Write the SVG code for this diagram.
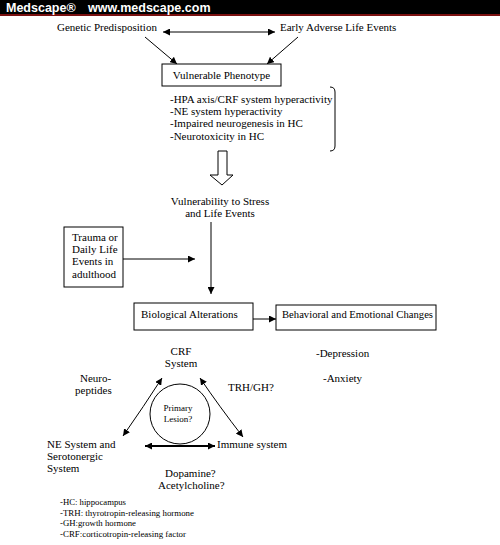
<svg xmlns="http://www.w3.org/2000/svg" width="500" height="545" viewBox="0 0 500 545">
<style>
.t{font-family:"Liberation Serif","Times New Roman",serif;font-size:11px;fill:#000}
.s{font-size:9px}
.f{font-family:"Liberation Serif","Times New Roman",serif;font-size:8.5px;fill:#000}
.box{fill:#fff;stroke:#000;stroke-width:1}
.ln{stroke:#000;stroke-width:1;fill:none}
.hd{font-family:"Liberation Sans",Arial,sans-serif;font-weight:bold;font-size:12.5px;fill:#fff}
</style>
<defs>
<marker id="ah" viewBox="0 0 10 10" refX="10" refY="5" markerWidth="7" markerHeight="7" markerUnits="userSpaceOnUse" orient="auto-start-reverse">
<path d="M0,0 L10,5 L0,10 Z" fill="#000"/>
</marker>
</defs>
<rect x="0" y="0" width="500" height="545" fill="#fff"/>
<g id="header">
<rect x="0" y="0" width="500" height="14" fill="#000"/>
<rect x="0" y="14" width="500" height="2" fill="#7a1010"/>
<text class="hd" x="6" y="11.5">Medscape®</text>
<text class="hd" x="88" y="11.5">www.medscape.com</text>
</g>
<g id="connectors">
<line class="ln" x1="163" y1="32" x2="275" y2="32" marker-start="url(#ah)" marker-end="url(#ah)"/>
<line class="ln" x1="145" y1="37" x2="177" y2="64" marker-end="url(#ah)"/>
<line class="ln" x1="298" y1="37" x2="267" y2="64" marker-end="url(#ah)"/>
<path class="ln" d="M330,87 Q335,87 335,92 L335,146 Q335,151 330,151"/>
<path d="M218,151 L227,151 L227,175 L233,175 L222,185 L210,175 L218,175 Z" fill="#fff" stroke="#000" stroke-width="1"/>
<line class="ln" x1="123" y1="259" x2="195" y2="259" marker-end="url(#ah)"/>
<line class="ln" x1="211" y1="222" x2="211" y2="294" marker-end="url(#ah)"/>
<line class="ln" x1="253" y1="319" x2="276" y2="319" marker-end="url(#ah)"/>
<path class="ln" d="M162,378 Q144,406 123,436" marker-start="url(#ah)" marker-end="url(#ah)"/>
<path class="ln" d="M200,378 Q219,406 243,437" marker-start="url(#ah)" marker-end="url(#ah)"/>
<line x1="145" y1="446" x2="215" y2="446" stroke="#000" stroke-width="2" marker-start="url(#ah)" marker-end="url(#ah)"/>
</g>
<g id="genetic"><text class="t" x="57" y="31">Genetic Predisposition</text></g>
<g id="early"><text class="t" x="280" y="31">Early Adverse Life Events</text></g>
<g id="vulnerable-phenotype">
<rect class="box" x="162" y="64" width="119" height="22"/>
<text class="t" x="221.5" y="79" text-anchor="middle">Vulnerable Phenotype</text>
</g>
<g id="features">
<text class="t" x="170" y="103">-HPA axis/CRF system hyperactivity</text>
<text class="t" x="170" y="115">-NE system hyperactivity</text>
<text class="t" x="170" y="127">-Impaired neurogenesis in HC</text>
<text class="t" x="170" y="140">-Neurotoxicity in HC</text>
</g>
<g id="vulnerability">
<text class="t" x="220" y="205" text-anchor="middle">Vulnerability to Stress</text>
<text class="t" x="220" y="217" text-anchor="middle">and Life Events</text>
</g>
<g id="trauma">
<rect class="box" x="64" y="227" width="59" height="60"/>
<text class="t" x="72" y="241">Trauma or</text>
<text class="t" x="72" y="253">Daily Life</text>
<text class="t" x="72" y="265">Events in</text>
<text class="t" x="72" y="278">adulthood</text>
</g>
<g id="biological">
<rect class="box" x="134" y="303" width="119" height="27"/>
<text class="t" x="141" y="318">Biological Alterations</text>
</g>
<g id="behavioral">
<rect class="box" x="276" y="305" width="160" height="25"/>
<text class="t" x="282" y="318" textLength="151" lengthAdjust="spacingAndGlyphs">Behavioral and Emotional Changes</text>
</g>
<g id="symptoms">
<text class="t" x="316" y="357">-Depression</text>
<text class="t" x="323" y="382">-Anxiety</text>
</g>
<g id="crf">
<text class="t" x="181" y="355" text-anchor="middle">CRF</text>
<text class="t" x="181" y="367" text-anchor="middle">System</text>
</g>
<g id="neuropeptides">
<text class="t" x="80" y="382">Neuro-</text>
<text class="t" x="75" y="394">peptides</text>
</g>
<g id="trh"><text class="t" x="228" y="391">TRH/GH?</text></g>
<g id="primary-lesion">
<circle cx="180" cy="414" r="30" fill="none" stroke="#000" stroke-width="1"/>
<text class="t s" x="178" y="411" text-anchor="middle">Primary</text>
<text class="t s" x="178" y="422" text-anchor="middle">Lesion?</text>
</g>
<g id="ne-system">
<text class="t" x="47" y="448">NE System and</text>
<text class="t" x="47" y="460">Serotonergic</text>
<text class="t" x="47" y="472">System</text>
</g>
<g id="immune"><text class="t" x="217" y="448">Immune system</text></g>
<g id="dopamine">
<text class="t" x="165" y="477">Dopamine?</text>
<text class="t" x="158" y="489">Acetylcholine?</text>
</g>
<g id="footnotes">
<text class="f" x="60" y="505" textLength="66" lengthAdjust="spacingAndGlyphs">-HC: hippocampus</text>
<text class="f" x="60" y="516" textLength="134" lengthAdjust="spacingAndGlyphs">-TRH: thyrotropin-releasing hormone</text>
<text class="f" x="60" y="526" textLength="76" lengthAdjust="spacingAndGlyphs">-GH:growth hormone</text>
<text class="f" x="60" y="537" textLength="126" lengthAdjust="spacingAndGlyphs">-CRF:corticotropin-releasing factor</text>
</g>
</svg>
